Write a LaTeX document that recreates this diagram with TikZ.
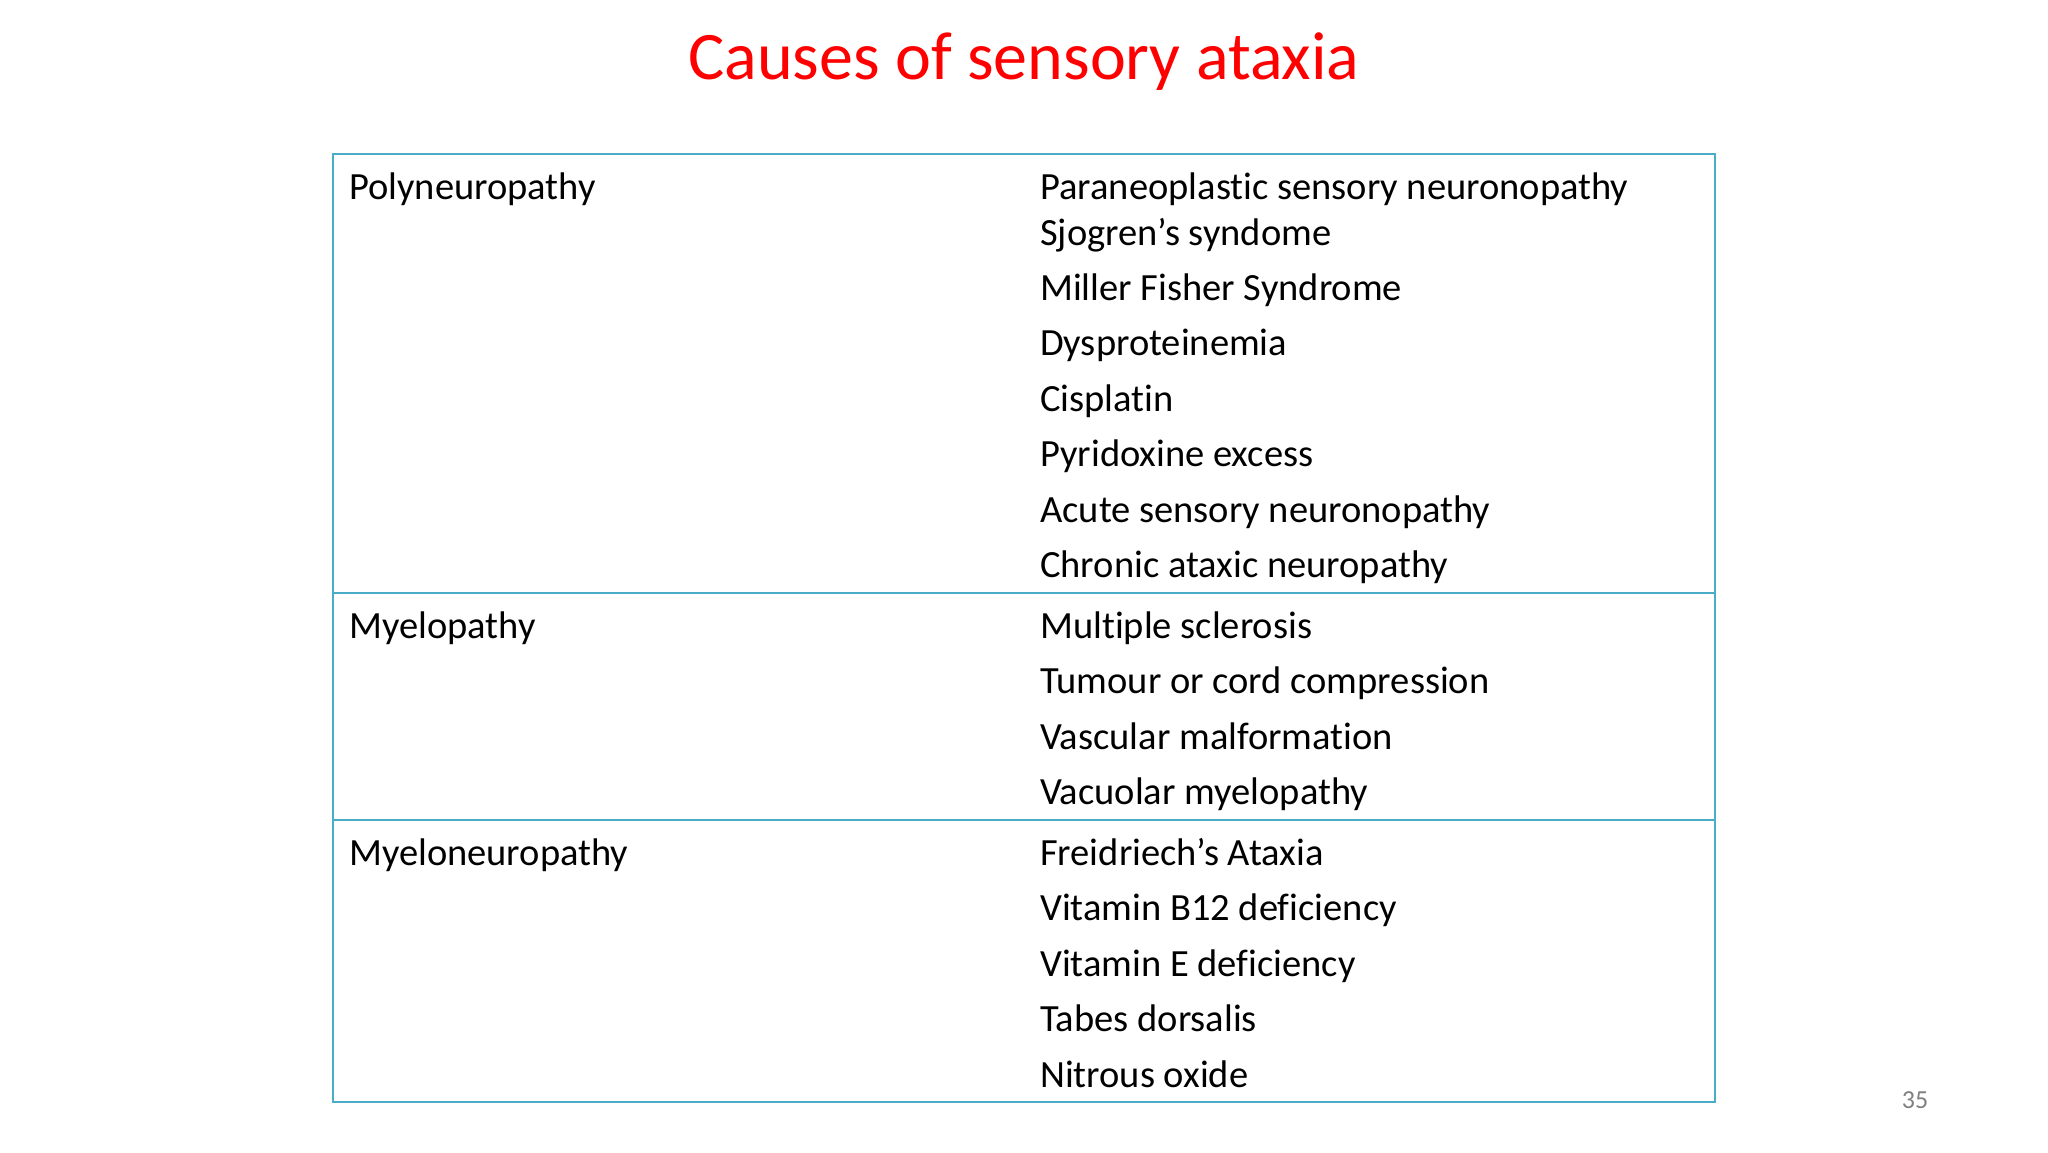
\documentclass[tikz,border=0pt]{standalone}
\usepackage{fontspec}
\setmainfont[Ligatures=NoCommon]{Carlito}
\definecolor{tbl}{RGB}{75,172,198}
\begin{document}
\begin{tikzpicture}[x=1pt,y=-1pt,
  txt/.style={anchor=base west,inner sep=0pt,font=\fontsize{38.5}{42}\selectfont},
  rowline/.style={draw=tbl,line width=2pt}]
\useasboundingbox (0,0) rectangle (2048,1152);
\node[font=\fontsize{68}{74}\selectfont,text=red] (title) at (1024,62) {Causes of sensory ataxia};
\draw[rowline] (333,154) rectangle (1715,1102);
\draw[rowline] (333,593) -- (1715,593);
\draw[rowline] (333,820) -- (1715,820);
\node[txt] (c1) at (349,199) {Polyneuropathy};
\node[txt] (c2) at (349,638) {Myelopathy};
\node[txt] (c3) at (349,865) {Myeloneuropathy};
\foreach \y/\t [count=\i] in {
 199/{Paraneoplastic sensory neuronopathy},
 245/{Sjogren’s syndome},
 300/{Miller Fisher Syndrome},
 355/{Dysproteinemia},
 411/{Cisplatin},
 466/{Pyridoxine excess},
 522/{Acute sensory neuronopathy},
 577/{Chronic ataxic neuropathy},
 638/{Multiple sclerosis},
 693/{Tumour or cord compression},
 749/{Vascular malformation},
 804/{Vacuolar myelopathy},
 865/{Freidriech’s Ataxia},
 920/{Vitamin B12 deficiency},
 976/{Vitamin E deficiency},
 1031/{Tabes dorsalis},
 1087/{Nitrous oxide}}
 \node[txt] (r\i) at (1040,\y) {\t};
\node[font=\fontsize{26}{28}\selectfont,text=gray] (pg) at (1915,1100) {35};
\end{tikzpicture}
\end{document}
